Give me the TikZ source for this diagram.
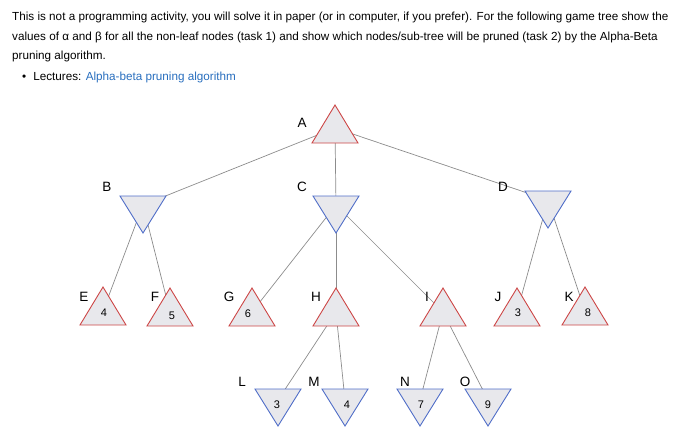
\documentclass[tikz,border=0pt]{standalone}
\usepackage{fontspec}
\setmainfont{Liberation Sans}
\definecolor{tfill}{RGB}{232,232,236}
\definecolor{tred}{RGB}{205,70,70}
\definecolor{tblue}{RGB}{80,110,200}
\definecolor{link}{RGB}{40,110,190}
\newcommand\uptri[3]{\coordinate (#1) at (#2,#3+24);\filldraw[fill=tfill,draw=tred,line width=0.9pt] (#2,#3)--(#2+23,#3+38)--(#2-23,#3+38)--cycle;}
\newcommand\dntri[3]{\coordinate (#1) at (#2,#3+13);\filldraw[fill=tfill,draw=tblue,line width=0.9pt] (#2-23,#3)--(#2+23,#3)--(#2,#3+37)--cycle;}
\begin{document}
\begin{tikzpicture}[x=1pt,y=-1pt,lbl/.style={font=\fontsize{13.5}{15}\selectfont},num/.style={font=\fontsize{11}{12}\selectfont},edge/.style={draw=gray!90,line width=0.7pt},txt/.style={anchor=west,inner sep=0pt,font=\fontsize{11.7}{14}\selectfont}]
\useasboundingbox (0,0) rectangle (700,434);
\node[txt] (t1) at (12,17) {This is not a programming activity, you will solve it in paper (or in computer, if you prefer). For the following game tree show the};
\node[txt] (t2) at (12,37) {values of α and β for all the non-leaf nodes (task 1) and show which nodes/sub-tree will be pruned (task 2) by the Alpha-Beta};
\node[txt] (t3) at (12,56) {pruning algorithm.};
\node[txt] (t4) at (22,77) {•\hspace{7pt}Lectures: \textcolor{link}{Alpha-beta pruning algorithm}};
\coordinate (A) at (335,128); \coordinate (B) at (143,205); \coordinate (C) at (336,205); \coordinate (D) at (548,200);
\coordinate (E) at (103,311); \coordinate (F) at (170,312); \coordinate (G) at (252,312); \coordinate (H) at (336,312);
\coordinate (I) at (443,312); \coordinate (J) at (517,312); \coordinate (K) at (585,311);
\coordinate (L) at (278,400); \coordinate (M) at (345,400); \coordinate (N) at (420,400); \coordinate (O) at (488,400);
\foreach \p/\c in {A/B,A/C,A/D,B/E,B/F,C/G,C/H,C/I,D/J,D/K,H/L,H/M,I/N,I/O} \draw[edge] (\p)--(\c);
\uptri{Ap}{335}{105}
\dntri{Bp}{143}{196}\dntri{Cp}{336}{196}\dntri{Dp}{548}{191}
\uptri{Ep}{103}{287}\uptri{Fp}{170}{288}\uptri{Gp}{252}{288}\uptri{Hp}{336}{288}
\uptri{Ip}{443}{288}\uptri{Jp}{517}{288}\uptri{Kp}{585}{287}
\dntri{Lp}{278}{389}\dntri{Mp}{345}{389}\dntri{Np}{420}{389}\dntri{Op}{488}{389}
\foreach \t/\x/\y in {A/302/123,B/107/187,C/302/187,D/503/187,E/84/297,F/155/297,G/229/297,H/316/297,I/427/297,J/498/297,K/569/297,L/242/382,M/314/382,N/405/382,O/465/382}
  \node[lbl] (l\t) at (\x,\y) {\t};
\foreach \v/\x/\y/\n in {4/104/313/e,5/172/316/f,6/248/314/g,3/518/313/j,8/588/313/k,3/277/405/l,4/347/405/m,7/421/405/n,9/488/405/o}
  \node[num] (v\n) at (\x,\y) {\v};
\end{tikzpicture}
\end{document}
